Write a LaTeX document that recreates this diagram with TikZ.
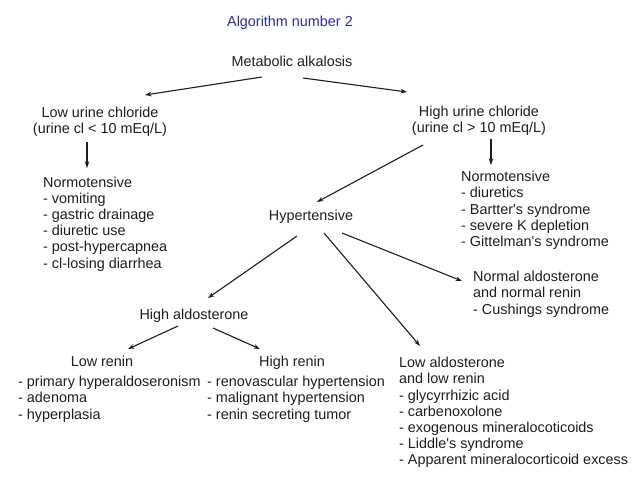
\documentclass[tikz,border=0pt]{standalone}
\usepackage{fontspec}
\setmainfont{Liberation Sans}
\usepackage{tikz}
\usetikzlibrary{arrows.meta,calc,positioning}
\definecolor{algoblue}{RGB}{45,45,160}
\definecolor{inkgray}{RGB}{30,30,30}

\begin{document}
\begin{tikzpicture}[x=1pt,y=1pt,>={Stealth[length=6.5pt,width=4.5pt]},line join=round,
  every node/.style={font=\fontsize{14.4}{16.2}\selectfont,text=inkgray,inner sep=0pt},
  lst/.style={align=left,anchor=north west},
  hdr/.style={align=center,anchor=north},
  arr/.style={->,draw=inkgray,line width=1.1pt}]
  \useasboundingbox[fill=white] (0,0) rectangle (638,-478);
  % top
  \node[text=algoblue,anchor=base] (title) at (290,-27) {Algorithm number 2};
  \node[anchor=base] (meta) at (292,-67) {Metabolic alkalosis};
  % urine chloride
  \node[hdr] (lowcl) at (100,-107) {Low urine chloride\\(urine cl < 10 mEq/L)};
  \node[hdr] (highcl) at (479,-106) {High urine chloride\\(urine cl > 10 mEq/L)};
  \node[lst] (normL) at (43,-176.5) {Normotensive\\- vomiting\\- gastric drainage\\- diuretic use\\- post-hypercapnea\\- cl-losing diarrhea};
  \node[lst] (normR) at (461,-171) {Normotensive\\- diuretics\\- Bartter\textquotesingle s syndrome\\- severe K depletion\\- Gittelman\textquotesingle s syndrome};
  % hypertensive branch
  \node[anchor=base] (hyper) at (311,-220.5) {Hypertensive};
  \node[lst] (normald) at (473,-271) {Normal aldosterone\\and normal renin\\- Cushings syndrome};
  \node[anchor=base] (highald) at (194,-319.5) {High aldosterone};
  \node[lst] (lowald) at (399,-357) {Low aldosterone\\and low renin\\- glycyrrhizic acid\\- carbenoxolone\\- exogenous mineralocoticoids\\- Liddle\textquotesingle s syndrome\\- Apparent mineralocorticoid excess};
  % renin
  \node[anchor=base] (lowrenin) at (102,-366.5) {Low renin};
  \node[anchor=base] (highrenin) at (292,-366.5) {High renin};
  \node[lst] (lowreninlist) at (18,-376) {- primary hyperaldoseronism\\- adenoma\\- hyperplasia};
  \node[lst] (highreninlist) at (207,-376) {- renovascular hypertension\\- malignant hypertension\\- renin secreting tumor};
  % arrows
  \draw[arr] ([shift={(-30,-10)}]meta.base) -- ([shift={(45,12)}]lowcl.north);
  \draw[arr] ([shift={(11,-11)}]meta.base) -- ([shift={(-72,14)}]highcl.north);
  \draw[arr] ([shift={(-13,-5)}]lowcl.south) -- ([shift={(44,8.5)}]normL.north west);
  \draw[arr] ([shift={(12,-3)}]highcl.south) -- ([shift={(30,6)}]normR.north west);
  \draw[arr] ([shift={(-56,-9)}]highcl.south) -- ([shift={(6,18.5)}]hyper.base);
  \draw[arr] ([shift={(-14,-15.5)}]hyper.base) -- ([shift={(14,21.5)}]highald.base);
  \draw[arr] ([shift={(31,-12.5)}]hyper.base) -- ([shift={(-11,-10)}]normald.north west);
  \draw[arr] ([shift={(13,-12.5)}]hyper.base) -- ([shift={(21,11)}]lowald.north west);
  \draw[arr] ([shift={(-16,-6.5)}]highald.base) -- ([shift={(26,17.5)}]lowrenin.base);
  \draw[arr] ([shift={(19,-8.5)}]highald.base) -- ([shift={(-32,17.5)}]highrenin.base);
\end{tikzpicture}
\end{document}
